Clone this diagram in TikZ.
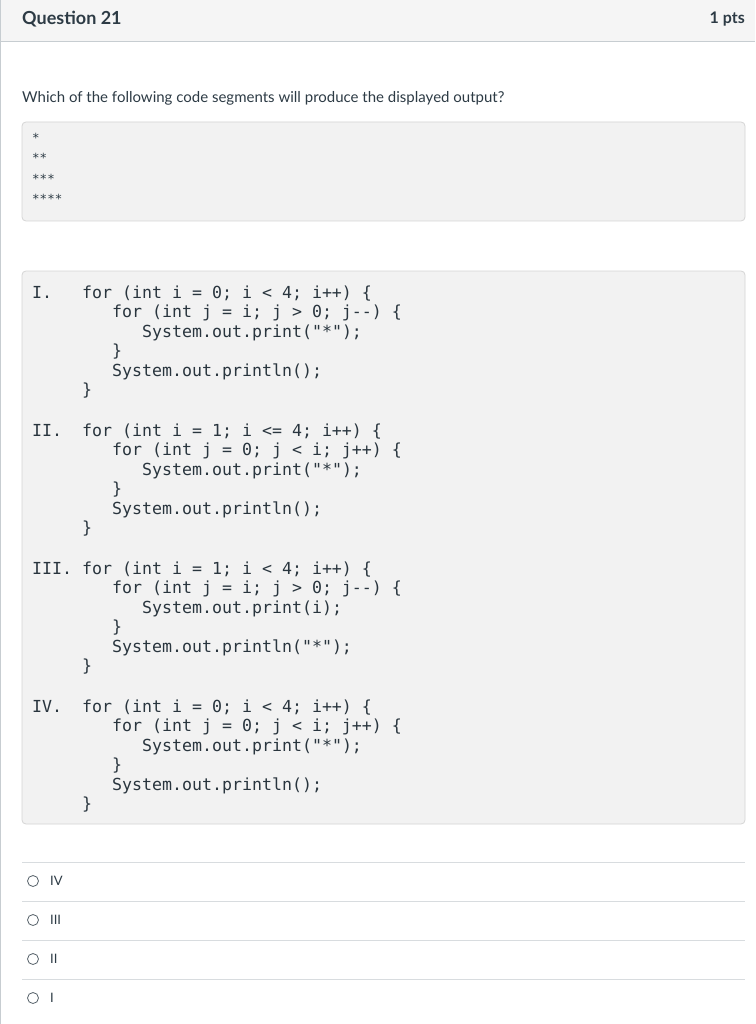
\documentclass[tikz,border=0pt]{standalone}
\usepackage{fontspec}
\setmainfont{Lato}
\setmonofont{DejaVu Sans Mono}
\definecolor{txt}{HTML}{2D3B45}
\definecolor{hdr}{HTML}{F5F5F5}
\definecolor{bdr}{HTML}{C7CDD1}
\definecolor{boxf}{HTML}{F2F2F2}
\definecolor{boxb}{HTML}{D5D5D5}
\tikzset{
 code/.style={anchor=base west,inner sep=0pt,font=\fontsize{16.6}{18}\ttfamily,text=txt!90!black},
 star/.style={anchor=base west,inner sep=0pt,font=\fontsize{12.5}{14}\ttfamily,text=txt},
 opt/.style={anchor=west,inner sep=0pt,font=\fontsize{13}{15}\selectfont,text=txt},
 radio/.style={circle,draw=txt!80,line width=0.8pt,minimum size=11pt,inner sep=0pt},
 panel/.style={draw=boxb,fill=boxf,rounded corners=4pt,line width=0.8pt}
}
\newcommand\cl[4]{\node[code] (#1) at (#2,#3) {#4};}
\begin{document}
\begin{tikzpicture}[x=1pt,y=-1pt]
\useasboundingbox (0,0) rectangle (755,1024);
\fill[white] (0,0) rectangle (755,1024);
\fill[hdr] (0,0) rectangle (755,42);
\draw[bdr,line width=1pt] (0,42) -- (755,42);
\draw[bdr,line width=1pt] (0.5,0) -- (0.5,1024);
\node[anchor=west,inner sep=0pt,font=\fontsize{18}{20}\bfseries,text=txt] (q) at (22,19) {Question 21};
\node[anchor=east,inner sep=0pt,font=\fontsize{16}{18}\bfseries,text=txt] (pts) at (745,19) {1 pts};
\node[anchor=west,inner sep=0pt,font=\fontsize{15}{17}\selectfont,text=txt] (qt) at (22,98) {Which of the following code segments will produce the displayed output?};
\draw[panel] (22,122) rectangle (745,221);
\node[star] (s1) at (32,143) {*};
\node[star] (s2) at (32,163) {**};
\node[star] (s3) at (32,184) {***};
\node[star] (s4) at (32,204) {****};
\draw[panel] (22,271) rectangle (745,824);
% I
\cl{a1}{32}{298}{I.\ \ \ for (int i = 0; i < 4; i++) \{}
\cl{a2}{32}{317}{\ \ \ \ \ \ \ \ for (int j = i; j > 0; j--) \{}
\cl{a3}{32}{337}{\ \ \ \ \ \ \ \ \ \ \ System.out.print("*");}
\cl{a4}{32}{356}{\ \ \ \ \ \ \ \ \}}
\cl{a5}{32}{376}{\ \ \ \ \ \ \ \ System.out.println();}
\cl{a6}{32}{395}{\ \ \ \ \ \}}
% II
\cl{b1}{32}{436}{II.\ \ for (int i = 1; i <= 4; i++) \{}
\cl{b2}{32}{455}{\ \ \ \ \ \ \ \ for (int j = 0; j < i; j++) \{}
\cl{b3}{32}{475}{\ \ \ \ \ \ \ \ \ \ \ System.out.print("*");}
\cl{b4}{32}{494}{\ \ \ \ \ \ \ \ \}}
\cl{b5}{32}{514}{\ \ \ \ \ \ \ \ System.out.println();}
\cl{b6}{32}{533}{\ \ \ \ \ \}}
% III
\cl{c1}{32}{574}{III.\ for (int i = 1; i < 4; i++) \{}
\cl{c2}{32}{593}{\ \ \ \ \ \ \ \ for (int j = i; j > 0; j--) \{}
\cl{c3}{32}{613}{\ \ \ \ \ \ \ \ \ \ \ System.out.print(i);}
\cl{c4}{32}{632}{\ \ \ \ \ \ \ \ \}}
\cl{c5}{32}{652}{\ \ \ \ \ \ \ \ System.out.println("*");}
\cl{c6}{32}{671}{\ \ \ \ \ \}}
% IV
\cl{d1}{32}{712}{IV.\ \ for (int i = 0; i < 4; i++) \{}
\cl{d2}{32}{731}{\ \ \ \ \ \ \ \ for (int j = 0; j < i; j++) \{}
\cl{d3}{32}{751}{\ \ \ \ \ \ \ \ \ \ \ System.out.print("*");}
\cl{d4}{32}{770}{\ \ \ \ \ \ \ \ \}}
\cl{d5}{32}{790}{\ \ \ \ \ \ \ \ System.out.println();}
\cl{d6}{32}{809}{\ \ \ \ \ \}}
% options
\foreach \yy in {862,901,940,979} \draw[bdr!70,line width=0.8pt] (22,\yy) -- (745,\yy);
\node[radio] (r1) at (33,881) {}; \node[opt] (o1) at (50,881) {IV};
\node[radio] (r2) at (33,920) {}; \node[opt] (o2) at (50,920) {III};
\node[radio] (r3) at (33,959) {}; \node[opt] (o3) at (50,959) {II};
\node[radio] (r4) at (33,998) {}; \node[opt] (o4) at (50,998) {I};
\end{tikzpicture}
\end{document}
